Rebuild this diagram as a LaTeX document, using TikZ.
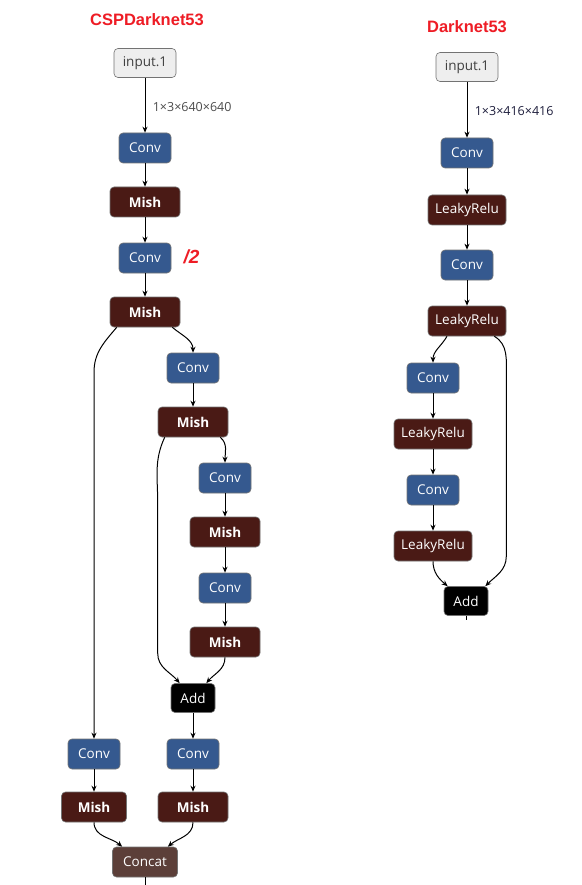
\documentclass[tikz,border=0pt]{standalone}
\usepackage{fontspec}
\setmainfont{Open Sans}
\newfontfamily\titlefont{Liberation Sans}
\usetikzlibrary{arrows.meta}
\definecolor{convblue}{HTML}{35598F}
\definecolor{mishred}{HTML}{4A1A15}
\definecolor{concatbr}{HTML}{5C3F39}
\definecolor{inpgray}{HTML}{EEEEEE}
\definecolor{titlered}{HTML}{EE1C25}
\tikzset{
  x=1pt, y=-1pt,
  base/.style={rounded corners=4pt, draw=black!55, line width=0.6pt, inner sep=0pt, minimum height=30pt, font=\fontsize{13.5}{14}\selectfont, text=white},
  inp/.style={base, fill=inpgray, text=black!75, minimum width=62pt, minimum height=29pt},
  conv/.style={base, fill=convblue, minimum width=52pt},
  mish/.style={base, fill=mishred, minimum width=70pt, font=\fontsize{13.5}{14}\selectfont\bfseries},
  leaky/.style={base, fill=mishred, minimum width=78pt},
  addn/.style={base, fill=black, minimum width=44pt, minimum height=29pt},
  concatn/.style={base, fill=concatbr, minimum width=65pt},
  arr/.style={-{Stealth[length=6pt,width=5pt]}, line width=1pt, black},
  ln/.style={line width=1pt, black},
  ttl/.style={font=\titlefont\fontsize{16.5}{18}\selectfont\bfseries, text=titlered},
  dim/.style={font=\fontsize{12.5}{14}\selectfont, anchor=west}
}
\begin{document}
\begin{tikzpicture}
\useasboundingbox (0,0) rectangle (581,885);
% ---------- CSPDarknet53 ----------
\node[ttl] (t1) at (147,20) {CSPDarknet53};
\node[inp] (in1) at (145,63) {input.1};
\node[conv] (c1) at (145,148) {Conv};
\node[mish] (m1) at (145,202) {Mish};
\node[conv] (c2) at (145,258) {Conv};
\node[ttl, anchor=west, font=\titlefont\fontsize{19}{20}\selectfont\bfseries\itshape] (half) at (180,257) {/2};
\node[mish] (m2) at (145,312) {Mish};
\node[conv] (c3) at (193,368) {Conv};
\node[mish] (m3) at (193,422) {Mish};
\node[conv] (c4) at (225,478) {Conv};
\node[mish] (m4) at (225,532) {Mish};
\node[conv] (c5) at (225,588) {Conv};
\node[mish] (m5) at (225,642) {Mish};
\node[addn] (a1) at (193,698) {Add};
\node[conv] (c6) at (94,754) {Conv};
\node[mish, minimum width=65pt] (m6) at (94,807) {Mish};
\node[conv] (c7) at (193,754) {Conv};
\node[mish] (m7) at (193,807) {Mish};
\node[concatn] (cat) at (145,862) {Concat};
\coordinate (catout) at (145,885);

\draw[arr] (in1) -- node[dim, text=black!70, pos=0.53, xshift=4pt] (d1) {1×3×640×640} (c1);
\draw[arr] (c1) -- (m1);
\draw[arr] (m1) -- (c2);
\draw[arr] (c2) -- (m2);
\draw[arr] ([xshift=-8pt]m2.south east) to[out=-40,in=90] (c3.north);
\draw[arr] ([xshift=7pt]m2.south west) to[out=-130,in=90] ([yshift=-45pt]c6.north |- m2.south) -- (c6.north);
\draw[arr] (c3) -- (m3);
\draw[arr] ([xshift=-8pt]m3.south east) to[out=-40,in=90] (c4.north);
\draw[arr] ([xshift=7pt]m3.south west) to[out=-115,in=90] ([yshift=-40pt]c4.north -| m3.south west) -- ([yshift=30pt]a1.north -| m3.south west) to[out=-90,in=130] ([xshift=9pt]a1.north west);
\draw[arr] (c4) -- (m4);
\draw[arr] (m4) -- (c5);
\draw[arr] (c5) -- (m5);
\draw[arr] (m5.south) to[out=-90,in=50] ([xshift=-9pt]a1.north east);
\draw[arr] (a1) -- (c7);
\draw[arr] (c7) -- (m7);
\draw[arr] (c6) -- (m6);
\draw[arr] (m6.south) to[out=-90,in=140] ([xshift=10pt]cat.north west);
\draw[arr] (m7.south) to[out=-90,in=40] ([xshift=-10pt]cat.north east);
\draw[ln] (cat) -- (catout);

% ---------- Darknet53 ----------
\node[ttl] (t2) at (467,27) {Darknet53};
\node[inp] (in2) at (467,67) {input.1};
\node[conv] (rc1) at (467,153) {Conv};
\node[leaky] (rl1) at (467,210) {LeakyRelu};
\node[conv] (rc2) at (467,265) {Conv};
\node[leaky] (rl2) at (467,321) {LeakyRelu};
\node[conv] (rc3) at (433,378) {Conv};
\node[leaky] (rl3) at (433,434) {LeakyRelu};
\node[conv] (rc4) at (433,490) {Conv};
\node[leaky] (rl4) at (433,546) {LeakyRelu};
\node[addn] (ra) at (466,601) {Add};
\coordinate (raout) at (466,620);

\draw[arr] (in2) -- node[dim, text={rgb,255:red,30;green,30;blue,60}, pos=0.53, xshift=4pt] (d2) {1×3×416×416} (rc1);
\draw[arr] (rc1) -- (rl1);
\draw[arr] (rl1) -- (rc2);
\draw[arr] (rc2) -- (rl2);
\draw[arr] ([xshift=-20pt]rl2.south) to[out=-120,in=90] (rc3.north);
\draw[arr] ([xshift=-12pt]rl2.south east) to[out=-30,in=90] ([yshift=-40pt]rl2.south east |- rl2.south) -- ([yshift=30pt]ra.north -| rl2.south east) to[out=-90,in=45] ([xshift=-3pt]ra.north east);
\draw[arr] (rc3) -- (rl3);
\draw[arr] (rl3) -- (rc4);
\draw[arr] (rc4) -- (rl4);
\draw[arr] (rl4.south) to[out=-90,in=140] ([xshift=4pt]ra.north west);
\draw[ln] (ra) -- (raout);
\end{tikzpicture}
\end{document}
